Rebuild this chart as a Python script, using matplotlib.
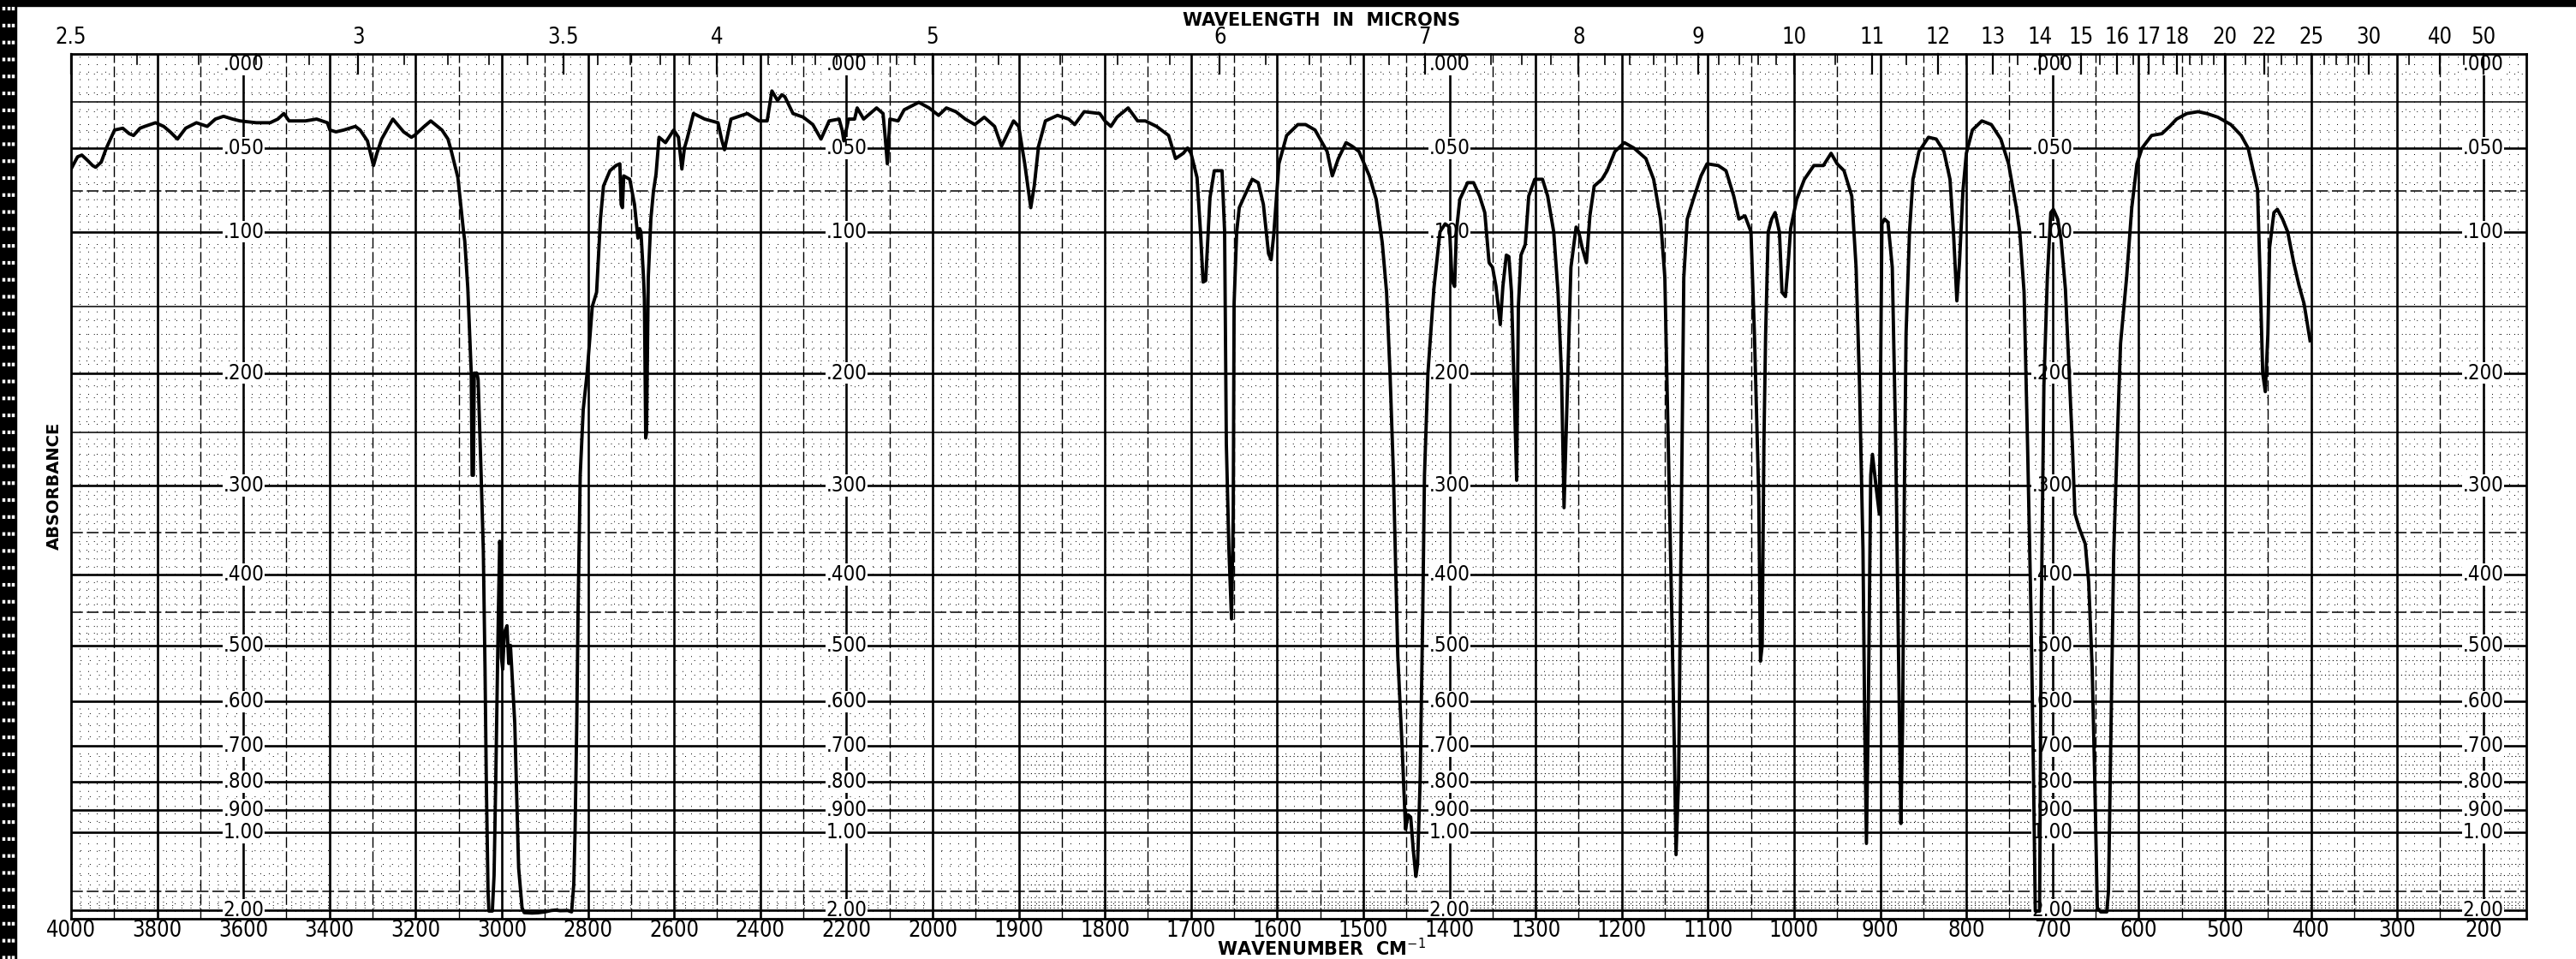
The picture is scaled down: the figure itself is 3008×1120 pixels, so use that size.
import numpy as np
import matplotlib.pyplot as plt
from matplotlib import font_manager
from matplotlib.lines import Line2D
from matplotlib.patches import Rectangle

# ---- spectrum: wavenumber (cm-1) vs absorbance ----
# 4000 - 2000 cm-1 (half scale part of the chart)
wn_high = [4000, 3985, 3975, 3962, 3950, 3943, 3930, 3918, 3899, 3880, 3865, 3855,
           3840, 3829, 3804, 3785, 3770, 3753, 3734, 3709, 3684, 3665, 3646, 3625,
           3608, 3570, 3538, 3520, 3506, 3494, 3456, 3430, 3405, 3399, 3385, 3367,
           3340, 3329, 3312, 3298, 3290, 3279, 3253, 3228, 3210, 3203, 3180, 3165,
           3139, 3125, 3117, 3102, 3089, 3086, 3079, 3071, 3069, 3066, 3064, 3058,
           3055, 3048, 3043, 3039, 3036, 3032, 3030, 3022, 3018, 3014, 3008, 3005,
           3003, 3001, 2998, 2994, 2988, 2984, 2980, 2970, 2961, 2953, 2948, 2930,
           2916, 2900, 2885, 2875, 2865, 2847, 2838, 2833, 2830, 2826, 2823, 2818,
           2811, 2802, 2795, 2790, 2785, 2780, 2771, 2764, 2749, 2735, 2726, 2723,
           2720, 2717, 2703, 2692, 2684, 2680, 2677, 2671, 2669, 2666, 2664, 2660,
           2654, 2648, 2642, 2635, 2620, 2601, 2590, 2582, 2576, 2570, 2555, 2529,
           2498, 2490, 2483, 2468, 2430, 2403, 2384, 2373, 2360, 2350, 2343, 2324,
           2300, 2278, 2259, 2240, 2217, 2210, 2206, 2195, 2181, 2175, 2160, 2130,
           2115, 2110, 2105, 2099, 2080, 2066, 2032, 2008]
abs_high = [.062, .055, .054, .057, .060, .061, .058, .050, .040, .039, .042, .043,
            .039, .038, .036, .038, .041, .045, .039, .036, .038, .034, .0325, .034,
            .035, .036, .036, .034, .031, .035, .035, .034, .036, .040, .041, .040,
            .038, .040, .046, .060, .053, .045, .034, .041, .044, .043, .038, .035,
            .040, .045, .052, .067, .0995, .106, .137, .20, .29, .29, .20, .20,
            .205, .29, .37, .54, .80, 1.5, 2.05, 2.05, 1.3, .79, .45, .36,
            .37, .52, .54, .48, .47, .53, .50, .645, 1.23, 1.9, 2.15, 2.18,
            2.16, 2.1, 2.02, 2.0, 2.03, 2.02, 2.1, 1.4, 1.0, .645, .45, .29,
            .23, .20, .17, .15, .145, .14, .092, .072, .063, .060, .059, .083,
            .085, .066, .068, .083, .104, .098, .100, .130, .145, .255, .25, .13,
            .092, .075, .065, .044, .047, .040, .044, .062, .050, .045, .031, .034,
            .036, .045, .051, .034, .031, .035, .035, .019, .024, .021, .022, .031,
            .033, .037, .045, .035, .034, .040, .046, .034, .034, .028, .034, .028,
            .031, .044, .059, .034, .035, .029, .025, .028]

# 2000 - 400 cm-1 (full scale part)
wn_low = [1993, 1984, 1973, 1962, 1951, 1940, 1928, 1920, 1914, 1906, 1900, 1893,
          1886, 1882, 1877, 1869, 1855, 1842, 1835, 1824, 1806, 1800, 1793, 1786,
          1773, 1762, 1753, 1740, 1726, 1718, 1709, 1704, 1700, 1693, 1689, 1686,
          1683, 1678, 1673, 1664, 1661, 1659, 1656, 1653, 1651, 1650, 1647, 1644,
          1638, 1629, 1622, 1616, 1610, 1607, 1604, 1598, 1589, 1576, 1567, 1556,
          1542, 1536, 1529, 1520, 1513, 1505, 1493, 1485, 1478, 1473, 1469, 1465,
          1460, 1455, 1451, 1448, 1445, 1442, 1439, 1437, 1434, 1431, 1429, 1425,
          1418, 1411, 1405, 1400, 1397, 1394, 1392, 1388, 1379, 1372, 1365, 1359,
          1354, 1350, 1346, 1341, 1338, 1334, 1331, 1328, 1325, 1322, 1320, 1317,
          1312, 1308, 1301, 1292, 1286, 1279, 1274, 1270, 1267, 1263, 1259, 1253,
          1250, 1246, 1241, 1237, 1232, 1223, 1217, 1208, 1197, 1186, 1172, 1163,
          1155, 1150, 1146, 1142, 1139, 1137, 1134, 1132, 1130, 1128, 1124, 1117,
          1108, 1101, 1088, 1079, 1070, 1064, 1057, 1050, 1046, 1041, 1039, 1037,
          1035, 1033, 1030, 1026, 1022, 1017, 1014, 1010, 1007, 1004, 997, 988,
          977, 966, 957, 950, 942, 933, 928, 924, 920, 918, 916, 914,
          911, 909, 905, 901, 898, 895, 891, 886, 882, 879, 876, 874,
          872, 870, 866, 862, 855, 844, 835, 826, 819, 815, 811, 808,
          804, 800, 793, 782, 771, 760, 751, 742, 738, 733, 729, 725,
          722, 720, 715, 713, 710, 706, 702, 699, 694, 690, 685, 681,
          677, 674, 669, 662, 658, 654, 651, 648, 644, 637, 635, 632,
          629, 625, 621, 614, 608, 602, 596, 585, 573, 564, 556, 544,
          531, 521, 508, 493, 481, 473, 466, 462, 459, 456, 453, 450,
          448, 443, 439, 433, 427, 420, 414, 408, 401]
abs_low = [.032, .028, .030, .034, .037, .033, .038, .049, .043, .035, .038, .059,
           .085, .072, .049, .035, .032, .034, .037, .030, .031, .035, .038, .033,
           .028, .035, .035, .038, .043, .056, .053, .050, .053, .067, .100, .133,
           .132, .079, .063, .063, .100, .26, .37, .46, .33, .148, .100, .085,
           .078, .068, .070, .083, .114, .118, .102, .059, .043, .037, .037, .040,
           .052, .066, .056, .047, .049, .052, .066, .080, .107, .140, .20, .29,
           .517, .70, .985, .92, .93, 1.1, 1.31, 1.2, .79, .45, .29, .20,
           .137, .100, .095, .097, .132, .136, .100, .080, .070, .070, .078, .088,
           .120, .123, .136, .163, .136, .115, .116, .140, .21, .295, .150, .115,
           .108, .078, .068, .068, .078, .100, .140, .20, .323, .21, .123, .097,
           .100, .110, .120, .090, .072, .068, .063, .052, .047, .050, .056, .068,
           .092, .130, .26, .45, .70, 1.13, .79, .45, .26, .130, .092, .080,
           .066, .059, .060, .063, .078, .092, .090, .100, .17, .31, .526, .50,
           .26, .17, .100, .092, .088, .100, .140, .143, .122, .098, .080, .068,
           .060, .060, .053, .059, .063, .078, .123, .21, .37, .645, 1.06, .645,
           .29, .27, .30, .33, .095, .092, .094, .123, .26, .49, .958, .645,
           .31, .17, .100, .068, .052, .044, .045, .052, .068, .100, .146, .12,
           .075, .053, .040, .035, .037, .045, .059, .085, .10, .140, .26, .45,
           .79, 2.05, 2.05, .45, .21, .13, .088, .086, .092, .105, .138, .195,
           .26, .329, .345, .363, .41, .536, .79, 1.9, 2.1, 2.1, 1.49, .645,
           .375, .26, .177, .130, .085, .059, .050, .043, .042, .038, .034, .031,
           .030, .031, .033, .037, .043, .050, .065, .074, .130, .20, .215, .17,
           .110, .088, .086, .092, .100, .120, .135, .148, .175]

# ---- chart paper labels ----
wn_ticks = [4000, 3800, 3600, 3400, 3200, 3000, 2800, 2600, 2400, 2200, 2000,
            1900, 1800, 1700, 1600, 1500, 1400, 1300, 1200, 1100, 1000,
            900, 800, 700, 600, 500, 400, 300, 200]
micron_ticks = [2.5, 3, 3.5, 4, 5, 6, 7, 8, 9, 10, 11, 12, 13, 14, 15, 16, 17, 18,
                20, 22, 25, 30, 40, 50]
micron_text = ["2.5", "3", "3.5", "4", "5", "6", "7", "8", "9", "10", "11", "12",
               "13", "14", "15", "16", "17", "18", "20", "22", "25", "30", "40", "50"]
abs_ticks = [0.0, 0.05, 0.1, 0.2, 0.3, 0.4, 0.5, 0.6, 0.7, 0.8, 0.9, 1.0, 2.0]
abs_text = [".000", ".050", ".100", ".200", ".300", ".400", ".500", ".600",
            ".700", ".800", ".900", "1.00", "2.00"]
label_cols = [3600, 2200, 1400, 700, 200]


def xpos(wn):
    # chart is half scale above 2000 cm-1
    wn = np.asarray(wn, dtype=float)
    return np.where(wn >= 2000, (4000 - wn) / 2.0, 1000 + (2000 - wn))


def ypos(a):
    # paper is linear in transmittance
    return 10.0 ** (-np.asarray(a, dtype=float))


# the printed numbers are narrow; use a condensed face if one is installed
narrow = dict(family="Roboto")
grow = 1.0
for f in font_manager.fontManager.ttflist:
    if f.style == "normal" and f.weight in (400, "normal", "regular") and \
            (f.stretch in ("condensed", "semi-condensed") or "Narrow" in f.name):
        narrow = dict(family=f.name, fontstretch=f.stretch)
        grow = 1.15
        break

fig = plt.figure(figsize=(30.08, 11.2), dpi=100)
ax = fig.add_axes([83 / 3008, 47 / 1120, 2867 / 3008, 1010 / 1120])
ax.set_xlim(0, 2850)
ax.set_ylim(0, 1)
ax.set_xticks([])
ax.set_yticks([])
for s in ax.spines.values():
    s.set_linewidth(2.0)

dots = (0, (1, 8))

# vertical grid
for w in range(3980, 2000, -20):
    if w % 100:
        ax.axvline(xpos(w), color="k", lw=0.7, ls=dots, zorder=1)
for w in range(1990, 150, -10):
    if w % 50:
        ax.axvline(xpos(w), color="k", lw=0.7, ls=dots, zorder=1)
for w in range(3900, 2000, -200):
    ax.axvline(xpos(w), color="k", lw=1.0, ls=(0, (9, 3)), zorder=1)
for w in range(3800, 1999, -200):
    ax.axvline(xpos(w), color="k", lw=1.9, zorder=1)
for w in range(1950, 150, -100):
    ax.axvline(xpos(w), color="k", lw=1.0, ls=(0, (9, 3)), zorder=1)
for w in range(1900, 199, -100):
    ax.axvline(xpos(w), color="k", lw=1.9, zorder=1)

# horizontal grid
fine_a = [a / 100 for a in range(1, 50) if a % 5]
for a in fine_a:
    ax.axhline(ypos(a), color="k", lw=0.7, ls=dots, zorder=1)
dense_a = [0.525, 0.55, 0.575, 0.625, 0.65, 0.675, 0.725, 0.75, 0.775, 0.85, 0.95,
           1.1, 1.2, 1.3, 1.4, 1.6, 1.7, 1.8, 1.9]
for a in dense_a:
    ax.hlines(ypos(a), xpos(1900), 2850, color="k", lw=0.8, ls=(0, (1, 3)), zorder=1)
    ax.hlines(ypos(a), 0, xpos(1900), color="k", lw=0.7, ls=(0, (1, 10)), zorder=1)
for a in [0.025, 0.15, 0.25]:
    ax.axhline(ypos(a), color="k", lw=1.1, zorder=1)
for a in [0.075, 0.35, 0.45, 1.5]:
    ax.axhline(ypos(a), color="k", lw=1.1, ls=(0, (9, 3)), zorder=1)
for a in abs_ticks[1:]:
    ax.axhline(ypos(a), color="k", lw=1.9, zorder=1)

# absorbance labels printed on the paper
for col in label_cols:
    for a, t in zip(abs_ticks, abs_text):
        y = 0.988 if a == 0 else ypos(a)
        ax.text(xpos(col), y, t, ha="center", va="center", fontsize=15 * grow,
                zorder=2, bbox=dict(facecolor="white", edgecolor="none", pad=0.6),
                **narrow)

# spectrum
ax.plot(xpos(wn_high + wn_low), ypos(abs_high + abs_low), color="k", lw=2.8,
        solid_joinstyle="round", zorder=3)

# wavenumber axis labels
bx = ax.get_xaxis_transform()
for w in wn_ticks:
    ax.text(xpos(w), -0.0139, str(w), transform=bx, ha="center", va="center",
            fontsize=16 * grow, **narrow)
fig.text(1543 / 3008, 1 - 1116 / 1120, "WAVENUMBER  CM$^{-1}$", ha="center",
         va="baseline", fontsize=15, fontweight="bold")

# wavelength axis on top
for m, t in zip(micron_ticks, micron_text):
    ax.text(xpos(10000 / m), 1.006, t, transform=bx, ha="center", va="bottom",
            fontsize=16 * grow, **narrow)
fig.text(1543 / 3008, 1 - 24 / 1120, "WAVELENGTH  IN  MICRONS", ha="center",
         va="center", fontsize=15, fontweight="bold")
minor_um = (list(np.arange(2.6, 5.0, 0.1)) + list(np.arange(5.2, 10.0, 0.2))
            + list(np.arange(10.5, 20.0, 0.5)) + [21, 23, 24, 26, 27, 28, 29, 35, 45])
for m in minor_um:
    ax.plot([xpos(10000 / m)] * 2, [1.0, 0.988], transform=bx, color="k", lw=1.2,
            clip_on=False, zorder=4)
for m in micron_ticks:
    ax.plot([xpos(10000 / m)] * 2, [1.0, 0.977], transform=bx, color="k", lw=1.6,
            clip_on=False, zorder=4)

fig.text(63 / 3008, 1 - 567 / 1120, "ABSORBANCE", rotation=90, ha="center",
         va="center", fontsize=14, fontweight="bold")

# black border of the scanned sheet
fig.patches.append(Rectangle((0, 0), 19 / 3008, 1, transform=fig.transFigure,
                             color="k", zorder=5))
fig.patches.append(Rectangle((0, 1 - 7 / 1120), 1, 7 / 1120, transform=fig.transFigure,
                             color="k", zorder=5))
for xp in [4, 10, 15.5]:
    fig.lines.append(Line2D([xp / 3008] * 2, [0, 1], transform=fig.transFigure,
                            color="white", lw=2.5, ls=(0, (1.2, 4.5)), zorder=6))

fig.savefig("out.png", dpi=100, facecolor="white")
